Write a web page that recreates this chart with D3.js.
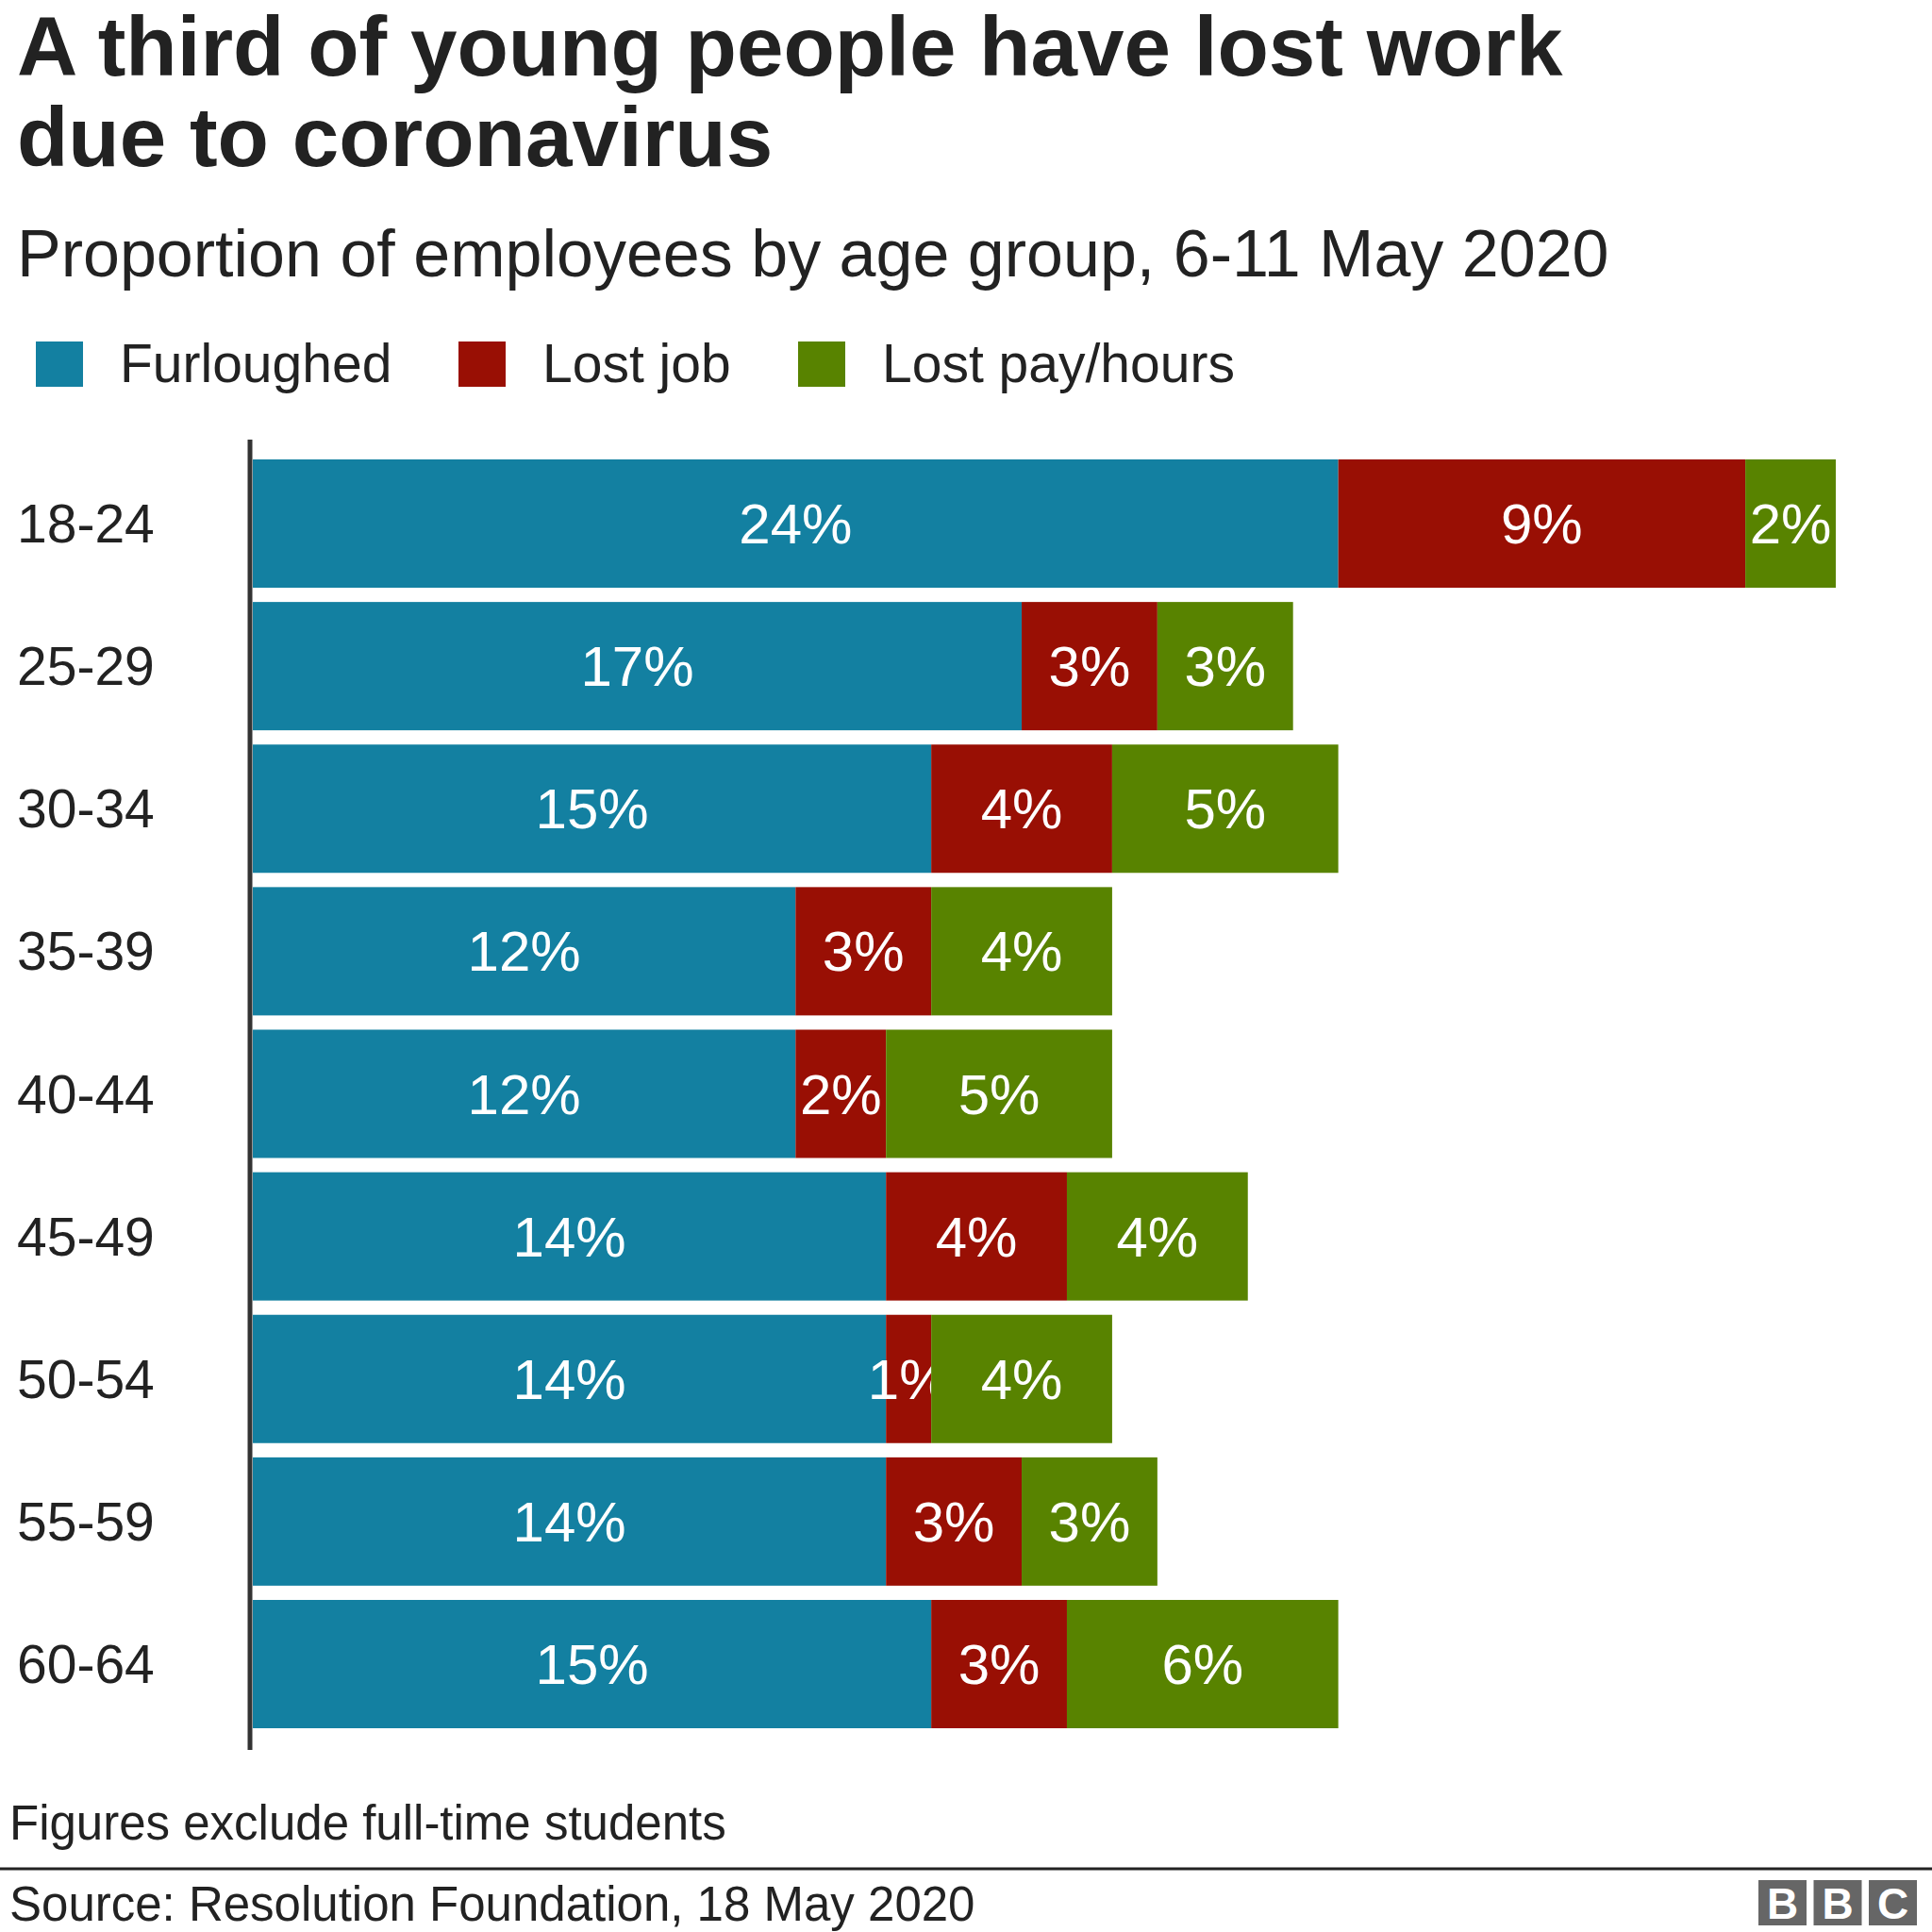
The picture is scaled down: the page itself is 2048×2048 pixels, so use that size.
<!DOCTYPE html>
<html><head><meta charset="utf-8">
<script src="https://d3js.org/d3.v7.min.js"></script>
<style>body{margin:0;background:#fff}text{font-family:"Liberation Sans",Arial,sans-serif}</style>
</head><body>
<script>
// chart data
var ages = ["18-24","25-29","30-34","35-39","40-44","45-49","50-54","55-59","60-64"];
var furloughed = [24,17,15,12,12,14,14,14,15];
var lostJob = [9,3,4,3,2,4,1,3,3];
var lostPay = [2,3,5,4,5,4,4,3,6];
var seriesNames = ["Furloughed","Lost job","Lost pay/hours"];
var colors = ["#1380a1","#990f04","#588300"];

var svg = d3.select("body").append("svg").attr("width",2048).attr("height",2048);

svg.append("text").attr("x",18).attr("y",80).attr("font-size",89).attr("font-weight","bold").attr("fill","#222")
  .text("A third of young people have lost work");
svg.append("text").attr("x",18).attr("y",176).attr("font-size",89).attr("font-weight","bold").attr("fill","#222")
  .text("due to coronavirus");
svg.append("text").attr("x",18).attr("y",293).attr("font-size",70).attr("fill","#222")
  .text("Proportion of employees by age group, 6-11 May 2020");

// legend
var legX = [38,486,846];
seriesNames.forEach(function(n,i){
  svg.append("rect").attr("x",legX[i]).attr("y",362).attr("width",50).attr("height",48).attr("fill",colors[i]);
  svg.append("text").attr("x",legX[i]+89).attr("y",405).attr("font-size",57).attr("fill","#222").text(n);
});

var x = d3.scaleLinear().domain([0,35]).range([268,1946]);
var y = d3.scaleBand().domain(ages).range([487,1832]).paddingInner(0.1).paddingOuter(0);

var rows = ages.map(function(a,i){ return {age:a, vals:[furloughed[i],lostJob[i],lostPay[i]]}; });
rows.forEach(function(r){
  var start = 0;
  r.vals.forEach(function(v,j){
    svg.append("rect").attr("x",x(start)).attr("y",y(r.age)).attr("width",x(start+v)-x(start))
      .attr("height",y.bandwidth()).attr("fill",colors[j]);
    svg.append("text").attr("x",(x(start)+x(start+v))/2).attr("y",y(r.age)+y.bandwidth()/2+21)
      .attr("text-anchor","middle").attr("font-size",60).attr("fill","#fff").text(v+"%");
    start += v;
  });
  svg.append("text").attr("x",18).attr("y",y(r.age)+y.bandwidth()/2+20).attr("font-size",57).attr("fill","#222").text(r.age);
});

svg.append("line").attr("x1",265).attr("x2",265).attr("y1",466).attr("y2",1855).attr("stroke","#333").attr("stroke-width",5);

svg.append("text").attr("x",10).attr("y",1950).attr("font-size",51).attr("fill","#222").text("Figures exclude full-time students");
svg.append("line").attr("x1",0).attr("x2",2048).attr("y1",1981).attr("y2",1981).attr("stroke","#222").attr("stroke-width",3);
svg.append("text").attr("x",10).attr("y",2036).attr("font-size",51).attr("fill","#222").text("Source: Resolution Foundation, 18 May 2020");

["B","B","C"].forEach(function(c,i){
  var bx = 1864+i*58.5;
  svg.append("rect").attr("x",bx).attr("y",1993).attr("width",51).attr("height",48).attr("fill","#666");
  svg.append("text").attr("x",bx+25.5).attr("y",2034).attr("text-anchor","middle").attr("font-size",46)
    .attr("font-weight","bold").attr("fill","#fff").text(c);
});
</script>
</body></html>
